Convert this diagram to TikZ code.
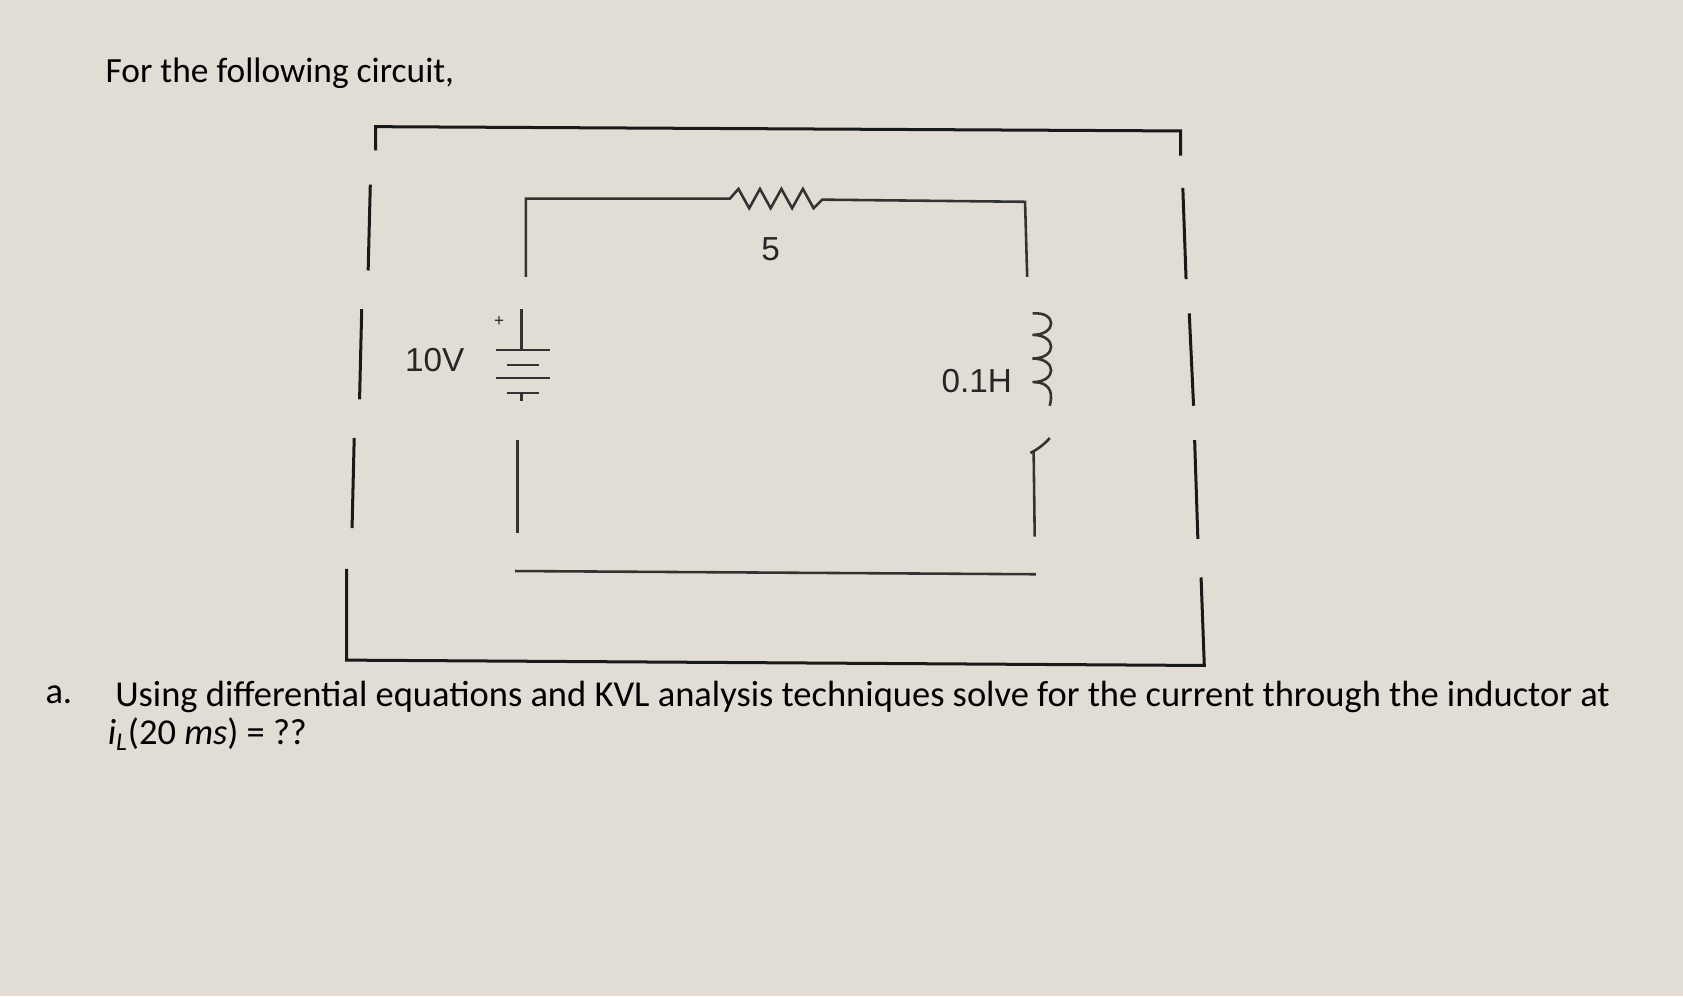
\documentclass[tikz,border=0pt]{standalone}
\usepackage{fontspec}
\setmainfont{Carlito}
\newfontfamily\cfont{Liberation Sans}
\begin{document}
\begin{tikzpicture}[x=0.5pt,y=-0.5pt,
 wire/.style={line width=1.2pt,black!80},
 frame/.style={line width=1.4pt,black!90},
 lab/.style={font=\cfont\fontsize{15.5}{18}\selectfont,text=black!85},
 txt/.style={font=\fontsize{17}{20}\selectfont,anchor=base west,inner sep=0pt}]
\fill[color={rgb,255:red,226;green,221;blue,212}] (0,0) rectangle (1568,928);
\useasboundingbox (0,0) rectangle (1568,928);
% outer frame
\draw[frame] (350,140)--(350,118)--(1100,122)--(1100,145);
\draw[frame] (345,172)--(343,252);
\draw[frame] (337,288)--(335,372);
\draw[frame] (330,408)--(328,492);
\draw[frame] (323,530)--(323,615)--(1122,620)--(1119,538);
\draw[frame] (1102,175)--(1105,260);
\draw[frame] (1108,292)--(1112,378);
\draw[frame] (1113,410)--(1116,502);
% circuit
\draw[wire] (490,258)--(490,185)--(680,185)--(688,176)--(698,194)--(708,176)--(718,194)--(728,176)--(738,194)--(748,176)--(758,194)--(766,186)--(955,188)--(957,258);
\node[lab] (r) at (718,232) {5};
\draw[wire] (962,292) .. controls (985,290) and (985,312) .. (962,312)
 .. controls (985,312) and (985,334) .. (962,334)
 .. controls (985,334) and (985,356) .. (962,356)
 .. controls (982,356) and (980,370) .. (978,378);
\node[lab] (l) at (910,355) {0.1H};
\draw[wire] (963,420)--(964,500);
\draw[wire] (960,422) .. controls (968,418) and (975,412) .. (978,408);
\draw[wire] (480,532)--(965,535);
% battery
\draw[wire] (486,288)--(486,325);
\draw[wire] (462,326)--(512,326);
\draw[wire] (472,340)--(502,340);
\draw[wire] (462,352)--(512,352);
\draw[wire] (472,366)--(502,366);
\draw[wire] (486,366)--(486,374);
\node[lab,font=\cfont\fontsize{8}{9}\selectfont] (p) at (465,300) {+};
\node[lab] (v) at (405,335) {10V};
\draw[wire] (482,410)--(482,497);
% text
\node[txt,font=\fontsize{16.5}{20}\selectfont] (t1) at (98,77) {For the following circuit,};
\node[txt] (a) at (42,655) {a.};
\node[txt] (q) at (107,658) {Using differential equations and KVL analysis techniques solve for the current through the inductor at};
\node[txt] (q2) at (100,694) {\textit{i\textsubscript{L}}(20 \textit{ms}) = ??};
\end{tikzpicture}
\end{document}
